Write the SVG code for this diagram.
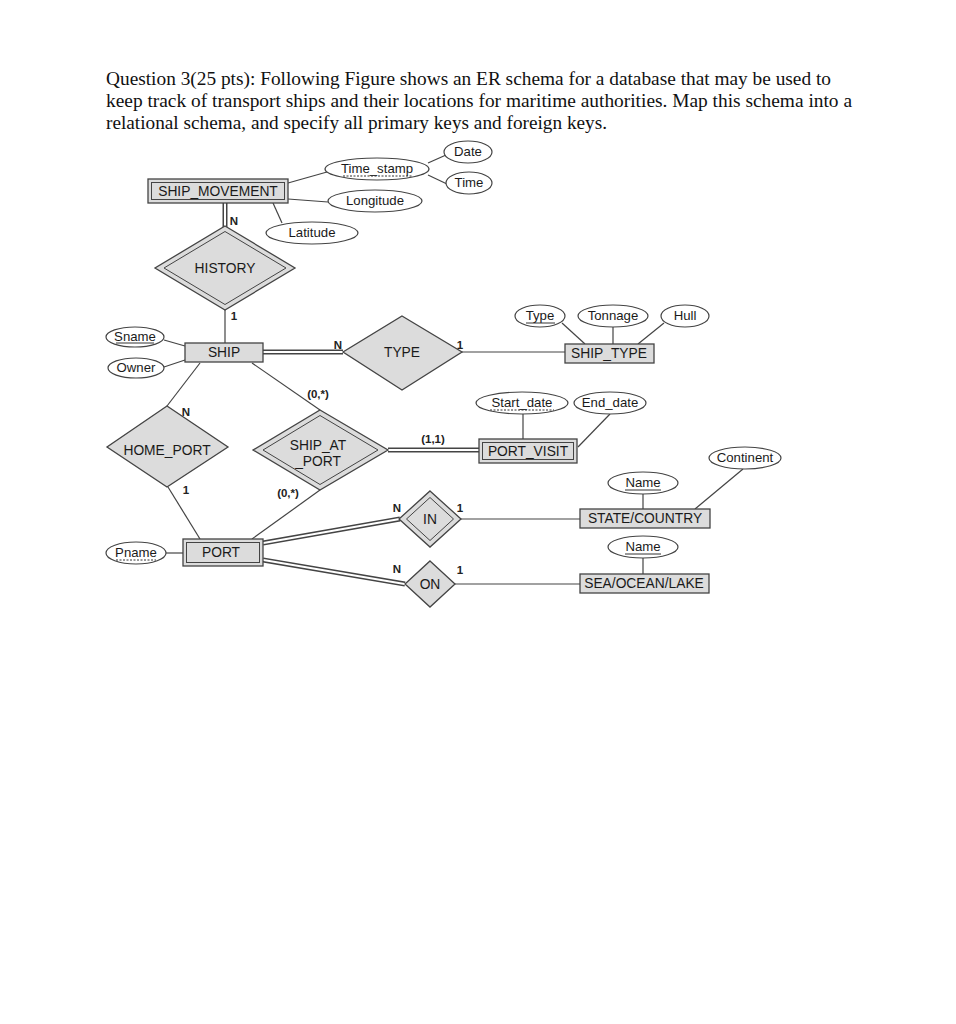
<svg xmlns="http://www.w3.org/2000/svg" width="956" height="1024" viewBox="0 0 956 1024">
<style>
.q{font-family:"Liberation Serif","Times New Roman",serif;font-size:19px;fill:#111}
.t{font-family:"Liberation Sans",Arial,sans-serif;font-size:13.8px;fill:#1a1a1a;text-anchor:middle}
.a{font-family:"Liberation Sans",Arial,sans-serif;font-size:13.2px;fill:#1a1a1a;text-anchor:middle}
.c{font-family:"Liberation Sans",Arial,sans-serif;font-size:11.5px;font-weight:bold;fill:#222;text-anchor:middle}
.box{fill:#dcdcdc;stroke:#444;stroke-width:1.3}
.inner{fill:#dcdcdc;stroke:#444;stroke-width:1}
.ell{fill:#fff;stroke:#444;stroke-width:1.2}
.ln{stroke:#444;stroke-width:1.2;fill:none}
.dbl{stroke:#444;stroke-width:5;fill:none}
.dbw{stroke:#fff;stroke-width:2;fill:none}
.ul{stroke:#333;stroke-width:1}
.dul{stroke:#333;stroke-width:1;stroke-dasharray:2 1.5}
</style>
<rect width="956" height="1024" fill="#fff"/>
<g id="question">
<text class="q" x="106" y="85" textLength="725" lengthAdjust="spacingAndGlyphs">Question 3(25 pts): Following Figure shows an ER schema for a database that may be used to</text>
<text class="q" x="106" y="107" textLength="746" lengthAdjust="spacingAndGlyphs">keep track of transport ships and their locations for maritime authorities. Map this schema into a</text>
<text class="q" x="106" y="129" textLength="501" lengthAdjust="spacingAndGlyphs">relational schema, and specify all primary keys and foreign keys.</text>
</g>
<g id="connectors">
<line class="ln" x1="288" y1="183" x2="327" y2="172"/>
<line class="ln" x1="428" y1="163" x2="446" y2="155"/>
<line class="ln" x1="428" y1="175" x2="447" y2="184"/>
<line class="ln" x1="288" y1="199" x2="328" y2="202"/>
<line class="ln" x1="273" y1="203" x2="282" y2="223"/>
<line class="dbl" x1="225" y1="203" x2="225" y2="227"/>
<line class="dbw" x1="225" y1="202" x2="225" y2="228"/>
<line class="ln" x1="225" y1="310" x2="225" y2="343"/>
<line class="ln" x1="164" y1="340" x2="185" y2="346"/>
<line class="ln" x1="164" y1="367" x2="185" y2="360"/>
<line class="dbl" x1="263" y1="352" x2="343" y2="352"/>
<line class="dbw" x1="262" y1="352" x2="344" y2="352"/>
<line class="ln" x1="462" y1="352" x2="565" y2="352"/>
<line class="ln" x1="562" y1="323" x2="585" y2="344"/>
<line class="ln" x1="613" y1="327" x2="613" y2="344"/>
<line class="ln" x1="664" y1="323" x2="638" y2="344"/>
<line class="ln" x1="200" y1="363" x2="167" y2="406"/>
<line class="ln" x1="168" y1="487" x2="200" y2="539"/>
<line class="ln" x1="252" y1="363" x2="320" y2="410"/>
<line class="ln" x1="320" y1="490" x2="252" y2="539"/>
<line class="dbl" x1="388" y1="450" x2="479" y2="450"/>
<line class="dbw" x1="387" y1="450" x2="480" y2="450"/>
<line class="ln" x1="523" y1="414" x2="523" y2="439"/>
<line class="ln" x1="610" y1="414" x2="578" y2="447"/>
<line class="ln" x1="166" y1="553" x2="183" y2="553"/>
<line class="dbl" x1="263" y1="543" x2="400" y2="519"/>
<line class="dbw" x1="262" y1="543.2" x2="401" y2="518.8"/>
<line class="dbl" x1="263" y1="560" x2="405" y2="584"/>
<line class="dbw" x1="262" y1="559.8" x2="406" y2="584.2"/>
<line class="ln" x1="461" y1="519" x2="580" y2="519"/>
<line class="ln" x1="455" y1="584" x2="580" y2="584"/>
<line class="ln" x1="643" y1="494" x2="643" y2="509"/>
<line class="ln" x1="643" y1="558" x2="643" y2="574"/>
<line class="ln" x1="743" y1="469" x2="695" y2="509"/>
</g>
<g id="labels">
<text class="c" x="234" y="225">N</text>
<text class="c" x="234" y="320">1</text>
<text class="c" x="338" y="349">N</text>
<text class="c" x="460" y="349">1</text>
<text class="c" x="186" y="416">N</text>
<text class="c" x="186" y="494">1</text>
<text class="c" x="318" y="398">(0,*)</text>
<text class="c" x="288" y="497">(0,*)</text>
<text class="c" x="433" y="443">(1,1)</text>
<text class="c" x="397" y="512">N</text>
<text class="c" x="460" y="512">1</text>
<text class="c" x="397" y="573">N</text>
<text class="c" x="460" y="574">1</text>
</g>
<g id="SHIP_MOVEMENT">
<rect class="box" x="148" y="179" width="140" height="24"/>
<rect class="inner" x="151.5" y="182.5" width="133" height="17"/>
<text class="t" x="218" y="196">SHIP_MOVEMENT</text>
</g>
<g id="Time_stamp">
<ellipse class="ell" cx="377" cy="169" rx="52" ry="11"/>
<text class="a" x="377" y="173">Time_stamp</text>
<line class="dul" x1="343" y1="176" x2="412" y2="176"/>
</g>
<g id="Date"><ellipse class="ell" cx="468" cy="152" rx="24" ry="11"/><text class="a" x="468" y="156">Date</text></g>
<g id="Time"><ellipse class="ell" cx="469" cy="183" rx="23" ry="11"/><text class="a" x="469" y="187">Time</text></g>
<g id="Longitude"><ellipse class="ell" cx="375" cy="201" rx="47" ry="11"/><text class="a" x="375" y="205">Longitude</text></g>
<g id="Latitude"><ellipse class="ell" cx="312" cy="233" rx="46" ry="11"/><text class="a" x="312" y="237">Latitude</text></g>
<g id="HISTORY">
<polygon class="box" points="225,226 295,268 225,310 155,268"/>
<polygon class="inner" points="225,231.5 286,268 225,304.5 164,268"/>
<text class="t" x="225" y="273">HISTORY</text>
</g>
<g id="SHIP">
<rect class="box" x="185" y="343" width="78" height="19"/>
<text class="t" x="224" y="357">SHIP</text>
</g>
<g id="Sname"><ellipse class="ell" cx="135" cy="337" rx="29" ry="10"/><text class="a" x="135" y="341">Sname</text><line class="ul" x1="116" y1="343" x2="154" y2="343"/></g>
<g id="Owner"><ellipse class="ell" cx="136" cy="368" rx="28" ry="10"/><text class="a" x="136" y="372">Owner</text></g>
<g id="TYPE">
<polygon class="box" points="402,316 462,352 402,390 343,352"/>
<text class="t" x="402" y="357">TYPE</text>
</g>
<g id="SHIP_TYPE">
<rect class="box" x="565" y="344" width="89" height="19"/>
<text class="t" x="609" y="358">SHIP_TYPE</text>
</g>
<g id="Type"><ellipse class="ell" cx="540" cy="316" rx="25" ry="11"/><text class="a" x="540" y="320">Type</text><line class="ul" x1="526" y1="323" x2="555" y2="323"/></g>
<g id="Tonnage"><ellipse class="ell" cx="613" cy="316" rx="35" ry="11"/><text class="a" x="613" y="320">Tonnage</text></g>
<g id="Hull"><ellipse class="ell" cx="685" cy="316" rx="24" ry="11"/><text class="a" x="685" y="320">Hull</text></g>
<g id="HOME_PORT">
<polygon class="box" points="167,406 228,447 167,487 107,447"/>
<text class="t" x="167" y="455">HOME_PORT</text>
</g>
<g id="SHIP_AT_PORT">
<polygon class="box" points="320,410 388,450 320,490 253,450"/>
<polygon class="inner" points="320,415.5 378,450 320,484.5 263,450"/>
<text class="t" x="318" y="450">SHIP_AT</text>
<text class="t" x="318" y="466">_PORT</text>
</g>
<g id="PORT_VISIT">
<rect class="box" x="479" y="439" width="98" height="24"/>
<rect class="inner" x="482.5" y="442.5" width="91" height="17"/>
<text class="t" x="528" y="456">PORT_VISIT</text>
</g>
<g id="Start_date"><ellipse class="ell" cx="522" cy="403" rx="46" ry="11"/><text class="a" x="522" y="407">Start_date</text><line class="dul" x1="490" y1="410" x2="554" y2="410"/></g>
<g id="End_date"><ellipse class="ell" cx="610" cy="403" rx="36" ry="11"/><text class="a" x="610" y="407">End_date</text></g>
<g id="Continent"><ellipse class="ell" cx="745" cy="458" rx="36" ry="11"/><text class="a" x="745" y="462">Continent</text></g>
<g id="PORT">
<rect class="box" x="183" y="539" width="80" height="27"/>
<rect class="inner" x="186.5" y="542.5" width="73" height="20"/>
<text class="t" x="221" y="557">PORT</text>
</g>
<g id="Pname"><ellipse class="ell" cx="136" cy="553" rx="30" ry="11"/><text class="a" x="136" y="557">Pname</text><line class="dul" x1="116" y1="560" x2="156" y2="560"/></g>
<g id="IN">
<polygon class="box" points="430,491 461,519 430,547 399,519"/>
<polygon class="inner" points="430,497.5 453.5,519 430,540.5 406.5,519"/>
<text class="t" x="430" y="524">IN</text>
</g>
<g id="ON">
<polygon class="box" points="430,561 455,584 430,607 405,584"/>
<text class="t" x="430" y="589">ON</text>
</g>
<g id="STATE_COUNTRY">
<rect class="box" x="580" y="509" width="130" height="19"/>
<text class="t" x="645" y="523">STATE/COUNTRY</text>
</g>
<g id="Name1"><ellipse class="ell" cx="643" cy="483" rx="35" ry="11"/><text class="a" x="643" y="487">Name</text><line class="ul" x1="625" y1="490" x2="661" y2="490"/></g>
<g id="SEA_OCEAN_LAKE">
<rect class="box" x="580" y="574" width="129" height="19"/>
<text class="t" x="644" y="588">SEA/OCEAN/LAKE</text>
</g>
<g id="Name2"><ellipse class="ell" cx="643" cy="547" rx="35" ry="11"/><text class="a" x="643" y="551">Name</text><line class="ul" x1="625" y1="554" x2="661" y2="554"/></g>
</svg>
